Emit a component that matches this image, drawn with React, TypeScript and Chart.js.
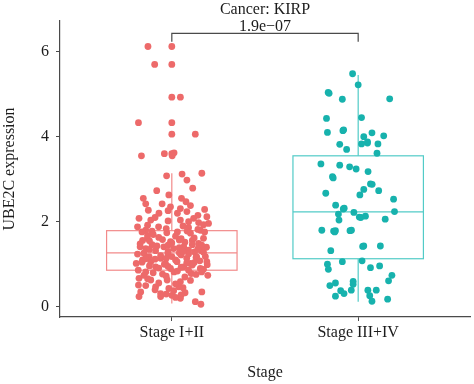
import { useEffect, useRef } from "react";
import { Chart, registerables } from "chart.js";
Chart.register(...registerables);

const titleText = "Cancer: KIRP";
const pValueText = "1.9e\u221207";
const xTitle = "Stage";
const yTitle = "UBE2C expression";
const categories = ["Stage I+II", "Stage III+IV"];
const yTickValues = [0, 2, 4, 6];

const boxLower = [0.08, 0.12];
const boxQ1 = [0.86, 1.13];
const boxMedian = [1.27, 2.23];
const boxQ3 = [1.79, 3.55];
const boxUpper = [3.14, 5.45];

const bracketTop = 6.43;
const bracketBottom = 6.23;

const stage12Values = [
  6.12, 6.12, 5.7, 5.7, 4.93, 4.93, 4.33, 4.33, 4.06, 4.06, 3.55, 3.6, 3.6, 3.62, 3.55,
  3.08, 3.14, 3.12, 2.98, 2.79, 2.73, 2.63, 2.55, 2.55, 2.47, 2.42, 2.42, 2.35, 2.31, 2.29,
  2.27, 2.2, 2.2, 2.24, 2.12, 2.08, 2.04, 2.02, 2.04, 2.08, 1.98, 1.96, 1.88, 1.88, 1.86,
  1.8, 1.8, 1.78, 1.76, 1.78, 1.76, 1.74, 1.61, 1.63, 1.53, 1.57, 1.56, 1.49, 1.56, 1.46,
  1.41, 1.37, 1.41, 1.4, 1.37, 1.32, 1.25, 1.27, 1.29, 1.32, 1.24, 1.18, 1.14, 1.18, 1.14,
  1.18, 1.1, 1.06, 1.02, 1.06, 1.02, 1.06, 1.02, 0.94, 0.9, 0.94, 0.9, 0.82, 0.77, 0.82,
  0.78, 0.74, 0.67, 0.63, 0.63, 0.59, 0.51, 0.47, 0.43, 0.47, 0.35, 0.31, 0.27, 0.33, 0.35,
  0.24, 0.2, 0.12, 0.06, 0.24, 0.22,
  1.7, 1.66, 1.62, 1.58, 1.52, 1.48, 1.45, 1.43, 1.39, 1.35, 1.33, 1.3, 1.28, 1.26, 1.22,
  1.2, 1.16, 1.12, 1.1, 1.08, 1.05, 1.03, 1.0, 0.98, 0.96, 0.93, 0.91, 0.88, 0.86, 0.84,
  0.8, 0.76, 0.72, 0.7, 0.66, 0.62, 0.56, 0.54, 0.5, 0.45, 0.4, 0.38, 0.3, 0.28, 1.92,
  1.9, 1.84, 1.82, 1.76, 1.73, 2.0, 2.1, 2.15, 2.26, 2.38, 1.55, 1.5, 1.46, 1.36, 1.24,
  1.14, 1.04, 0.95, 0.82, 0.74, 1.68, 1.61, 1.41, 1.18, 0.99, 0.86, 1.13, 1.3, 1.6, 1.93, 1.45,
];
const stage12Jitter = [
  -0.128, 0.0, -0.092, 0.0, 0.0, 0.046, -0.179, 0.0, 0.0, 0.126, -0.163, -0.04, 0.0, 0.012, 0.002,
  -0.028, 0.161, 0.055, 0.081, 0.112, -0.081, -0.016, -0.153, 0.052, 0.076, -0.14, -0.052, -0.007, 0.046, 0.176,
  -0.126, -0.069, 0.03, 0.081, 0.188, -0.176, -0.113, -0.02, 0.046, 0.117, 0.144, 0.197, -0.184, -0.071, 0.09,
  0.153, -0.14, -0.106, 0.03, 0.082, 0.176, -0.027, -0.131, -0.07, -0.007, 0.04, 0.11, 0.144, -0.157, -0.106,
  -0.043, 0.01, 0.064, 0.186, -0.14, -0.087, -0.021, 0.04, 0.122, 0.158, -0.184, -0.122, -0.06, 0.0, 0.08,
  0.133, -0.157, -0.113, -0.034, 0.028, 0.099, 0.188, -0.191, -0.087, -0.007, 0.064, 0.153, -0.14, -0.05, 0.012,
  0.104, 0.193, -0.176, -0.113, -0.025, 0.046, -0.179, -0.087, -0.016, 0.037, -0.167, -0.06, 0.0, 0.071, 0.161,
  -0.176, 0.046, 0.126, 0.156, -0.06, 0.02,
  -0.1, 0.02, 0.12, -0.05, 0.07, -0.17, 0.16, -0.08, 0.04, -0.12, 0.09, -0.02, 0.17, -0.15, 0.05,
  -0.06, 0.13, -0.09, 0.02, 0.15, -0.16, 0.08, -0.04, 0.11, -0.12, 0.05, -0.07, 0.17, -0.18, 0.03,
  -0.1, 0.13, -0.03, 0.07, -0.13, 0.1, -0.07, 0.02, -0.14, 0.06, -0.09, 0.01, -0.03, 0.05, -0.13,
  0.06, -0.03, 0.14, -0.16, 0.1, 0.09, -0.09, 0.14, -0.02, 0.1, -0.12, 0.0, 0.11, 0.14, 0.09,
  -0.03, 0.12, -0.02, 0.16, -0.15, -0.13, 0.17, -0.17, 0.18, 0.19, 0.09, -0.14, 0.06, 0.05, 0.17, -0.02,
];

const stage34Values = [
  5.48, 5.22, 5.04, 5.02, 4.88, 4.89, 4.43, 4.45, 4.1, 4.14, 4.16, 4.09, 4.0, 4.02, 3.82,
  3.83, 3.85, 3.88, 3.83, 3.7, 3.61, 3.36, 3.33, 3.29, 3.24, 3.18, 3.06, 3.03, 2.89, 2.88,
  2.76, 2.73, 2.67, 2.63, 2.53, 2.39, 2.3, 2.32, 2.24, 2.18, 2.22, 2.11, 2.1, 2.13, 2.04,
  2.06, 1.8, 1.78, 1.76, 1.79, 1.79, 1.8, 1.32, 1.42, 1.43, 1.43, 1.0, 0.88, 1.06, 1.08,
  0.92, 0.96, 0.74, 0.61, 0.5, 0.56, 0.6, 0.53, 0.39, 0.38, 0.31, 0.25, 0.39, 0.26, 0.13,
  0.18, 0.39,
];
const stage34Jitter = [
  -0.03, 0.0, -0.161, -0.156, -0.085, 0.169, -0.17, 0.018, -0.165, -0.082, -0.078, 0.074, 0.03, 0.137, -0.099,
  0.018, 0.05, 0.05, 0.106, -0.062, 0.101, -0.2, -0.099, -0.046, -0.011, 0.053, -0.138, -0.134, 0.066, 0.075,
  0.03, 0.11, -0.174, 0.009, 0.19, -0.121, -0.08, -0.075, 0.195, -0.106, -0.023, 0.006, 0.014, 0.039, -0.103,
  0.145, -0.195, -0.132, -0.126, -0.122, -0.044, -0.036, -0.147, 0.024, 0.03, 0.119, -0.165, -0.16, -0.085, 0.021,
  0.066, 0.115, 0.181, 0.163, -0.152, -0.122, -0.027, -0.027, -0.037, -0.094, -0.076, -0.122, 0.097, 0.062, 0.074,
  0.158, 0.052,
];

const FONT = "'Liberation Serif', 'DejaVu Serif', serif";
const FONT_SIZE = 16;
const redPoint = "#ED6A6A";
const tealPoint = "#17B2AD";
const redBox = "#F28A8A";
const tealBox = "#52CBC7";
const axisColor = "#4a4a4a";
const textColor = "#1c1c1c";
const boxHalfWidth = 0.35;

const boxPlugin = {
  id: "boxPlot",
  beforeDatasetsDraw(chart: any) {
    const { ctx } = chart;
    const x = chart.scales.x;
    const y = chart.scales.y;
    const colors = [redBox, tealBox];
    ctx.save();
    ctx.lineWidth = 1.2;
    categories.forEach((_, i) => {
      const c = x.getPixelForValue(i + 1);
      const l = x.getPixelForValue(i + 1 - boxHalfWidth);
      const r = x.getPixelForValue(i + 1 + boxHalfWidth);
      const q1 = y.getPixelForValue(boxQ1[i]);
      const q3 = y.getPixelForValue(boxQ3[i]);
      const med = y.getPixelForValue(boxMedian[i]);
      const lo = y.getPixelForValue(boxLower[i]);
      const hi = y.getPixelForValue(boxUpper[i]);
      ctx.strokeStyle = colors[i];
      ctx.beginPath();
      ctx.moveTo(c, q3);
      ctx.lineTo(c, hi);
      ctx.moveTo(c, q1);
      ctx.lineTo(c, lo);
      ctx.stroke();
      ctx.strokeRect(l, q3, r - l, q1 - q3);
      ctx.beginPath();
      ctx.moveTo(l, med);
      ctx.lineTo(r, med);
      ctx.stroke();
    });
    ctx.restore();
  },
  afterDatasetsDraw(chart: any) {
    const { ctx } = chart;
    const x = chart.scales.x;
    const y = chart.scales.y;
    const x1 = x.getPixelForValue(1);
    const x2 = x.getPixelForValue(2);
    const top = y.getPixelForValue(bracketTop);
    const bot = y.getPixelForValue(bracketBottom);
    ctx.save();
    ctx.strokeStyle = axisColor;
    ctx.lineWidth = 1.2;
    ctx.beginPath();
    ctx.moveTo(x1, bot);
    ctx.lineTo(x1, top);
    ctx.lineTo(x2, top);
    ctx.lineTo(x2, bot);
    ctx.stroke();
    ctx.fillStyle = textColor;
    ctx.font = `${FONT_SIZE}px ${FONT}`;
    ctx.textAlign = "center";
    ctx.textBaseline = "alphabetic";
    ctx.fillText(pValueText, (x1 + x2) / 2, top - 2.5);
    ctx.restore();
  },
};

function toPoints(values: number[], jitter: number[], group: number) {
  return values.map((v, i) => ({ x: group + jitter[i], y: v }));
}

export default function App() {
  const ref = useRef<HTMLCanvasElement>(null);
  useEffect(() => {
    if (!ref.current) return;
    const chart = new Chart(ref.current, {
      type: "scatter",
      data: {
        datasets: [
          {
            label: categories[0],
            data: toPoints(stage12Values, stage12Jitter, 1),
            backgroundColor: redPoint,
            borderWidth: 0,
            pointRadius: 3.4,
          },
          {
            label: categories[1],
            data: toPoints(stage34Values, stage34Jitter, 2),
            backgroundColor: tealPoint,
            borderWidth: 0,
            pointRadius: 3.4,
          },
        ],
      },
      options: {
        responsive: false,
        animation: false,
        layout: { padding: 0 },
        plugins: {
          legend: { display: false },
          tooltip: { enabled: false },
          title: {
            display: true,
            text: titleText,
            fullSize: false,
            color: textColor,
            font: { family: FONT, size: FONT_SIZE, weight: "normal" as any },
            padding: { top: 0, bottom: 1.8 },
          },
        },
        scales: {
          x: {
            type: "linear",
            min: 0.4,
            max: 2.6,
            afterFit(scale: any) {
              scale.height = 67;
            },
            afterBuildTicks(scale: any) {
              scale.ticks = categories.map((_, i) => ({ value: i + 1 }));
            },
            ticks: {
              autoSkip: false,
              maxRotation: 0,
              padding: 2.4,
              color: textColor,
              font: { family: FONT, size: FONT_SIZE },
              callback: (v: any) => categories[Math.round(Number(v)) - 1] ?? "",
            },
            grid: {
              drawOnChartArea: false,
              drawTicks: true,
              tickLength: 4,
              color: axisColor,
            },
            border: { display: true, color: axisColor, width: 1.2 },
            title: {
              display: true,
              text: xTitle,
              color: textColor,
              font: { family: FONT, size: FONT_SIZE },
              padding: { top: 0, bottom: 1.4 },
            },
          },
          y: {
            type: "linear",
            min: -0.24,
            max: 6.72,
            afterFit(scale: any) {
              scale.width = 60;
            },
            afterBuildTicks(scale: any) {
              scale.ticks = yTickValues.map((v) => ({ value: v }));
            },
            ticks: {
              padding: 7,
              color: textColor,
              font: { family: FONT, size: FONT_SIZE },
            },
            grid: {
              drawOnChartArea: false,
              drawTicks: true,
              tickLength: 4,
              color: axisColor,
            },
            border: { display: true, color: axisColor, width: 1.2 },
            title: {
              display: true,
              text: yTitle,
              color: textColor,
              font: { family: FONT, size: FONT_SIZE },
              padding: { top: 0, bottom: 0 },
            },
          },
        },
      },
      plugins: [boxPlugin],
    });
    return () => chart.destroy();
  }, []);
  return (
    <div style={{ position: "fixed", left: 0, top: 0, width: 474, height: 384, background: "#fff" }}>
      <canvas ref={ref} width={474} height={384} style={{ display: "block" }} />
    </div>
  );
}
